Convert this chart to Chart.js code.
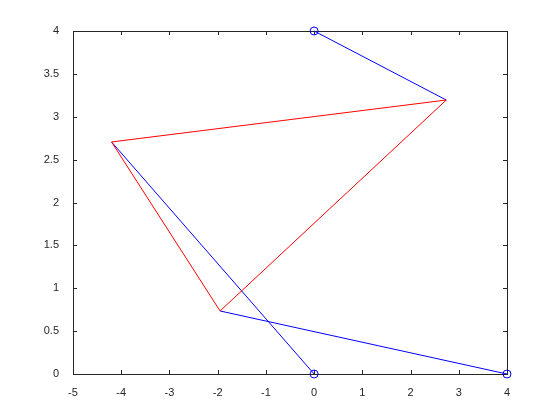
<!DOCTYPE html>
<html><head><script src="https://cdn.jsdelivr.net/npm/chart.js@4"></script>
<style>body{margin:0;background:#fff}#c{width:560px;height:420px}</style></head>
<body><div id="c"><canvas id="chart"></canvas></div>
<script>
// red triangle vertices (closed)
const triX=[2.74,-4.2,-1.95,2.74];
const triY=[3.195,2.706,0.735,3.195];
// blue spokes: vertex -> endpoint with circle
const spokeFromX=[2.74,-4.2,-1.95];
const spokeFromY=[3.195,2.706,0.735];
const spokeToX=[0,0,4];
const spokeToY=[4,0,0];
const xTicks=[-5,-4,-3,-2,-1,0,1,2,3,4];
const yTicks=[0,0.5,1,1.5,2,2.5,3,3.5,4];

const datasets=[{
  data:triX.map((x,i)=>({x,y:triY[i]})),
  showLine:true,borderColor:'#ff0000',borderWidth:1,pointRadius:0,clip:false
}];
spokeFromX.forEach((x,i)=>{
  datasets.push({
    data:[{x,y:spokeFromY[i]},{x:spokeToX[i],y:spokeToY[i]}],
    showLine:true,borderColor:'#0000ff',borderWidth:1,clip:false,
    pointRadius:[0,4],pointStyle:'circle',pointBorderColor:'#0000ff',
    pointBackgroundColor:'rgba(0,0,0,0)',pointBorderWidth:1
  });
});

const boxPlugin={id:'box',beforeDatasetsDraw(c){
  const {ctx,chartArea:a,scales:{x,y}}=c;
  ctx.save();ctx.strokeStyle='#262626';ctx.lineWidth=1;
  ctx.strokeRect(a.left+0.5,a.top+0.5,a.right-a.left,a.bottom-a.top);
  ctx.beginPath();
  xTicks.forEach(t=>{const p=Math.round(x.getPixelForValue(t))+0.5;
    ctx.moveTo(p,a.bottom);ctx.lineTo(p,a.bottom-4);ctx.moveTo(p,a.top);ctx.lineTo(p,a.top+4);});
  yTicks.forEach(t=>{const p=Math.round(y.getPixelForValue(t))+0.5;
    ctx.moveTo(a.left,p);ctx.lineTo(a.left+4,p);ctx.moveTo(a.right,p);ctx.lineTo(a.right-4,p);});
  ctx.stroke();ctx.restore();
}};

new Chart(document.getElementById('chart'),{
  type:'scatter',
  data:{datasets},
  options:{
    responsive:true,maintainAspectRatio:false,animation:false,
    layout:{padding:{top:31,right:53,left:0,bottom:0}},
    plugins:{legend:{display:false},tooltip:{enabled:false}},
    scales:{
      x:{type:'linear',min:-5,max:4,
        afterFit(s){s.height=46;},
        afterBuildTicks(s){s.ticks=xTicks.map(v=>({value:v}));},
        grid:{display:false},border:{display:false},
        ticks:{color:'#262626',font:{family:'Liberation Sans',size:11},padding:4,maxRotation:0,callback:v=>String(v)}},
      y:{type:'linear',min:0,max:4,
        afterFit(s){s.width=73;},
        afterBuildTicks(s){s.ticks=yTicks.map(v=>({value:v}));},
        grid:{display:false},border:{display:false},
        ticks:{color:'#262626',font:{family:'Liberation Sans',size:11},padding:6,callback:v=>String(v)}}
    }
  },
  plugins:[boxPlugin]
});
</script></body></html>
